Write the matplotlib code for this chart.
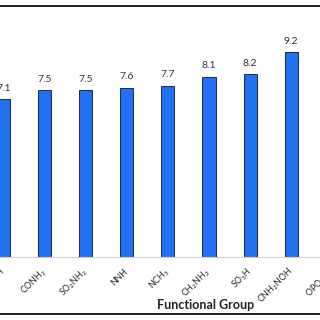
"""Bar chart of values per functional group (cropped view)."""

import matplotlib

matplotlib.use("Agg")
import matplotlib.pyplot as plt
from matplotlib.patches import Rectangle

# categories visible in the crop; the last one has its bar off-canvas
groups = [
    "COOH",
    "CONH$_2$",
    "SO$_2$NH$_2$",
    "NNH",
    "NCH$_3$",
    "CH$_2$NH$_2$",
    "SO$_3$H",
    "CNH$_2$NOH",
    "OPO$_3$H$_2$",
]
values = [7.1, 7.5, 7.5, 7.6, 7.7, 8.1, 8.2, 9.2]

BLUE = "#2170F2"
EDGE = "#1B2A4A"

plt.rcParams["font.family"] = ["Lato", "DejaVu Sans"]

fig = plt.figure(figsize=(3.2, 3.2), dpi=100)
W = H = 320.0

# axes deliberately wider than the canvas, like a crop of a larger chart
ax_left, ax_right = -64.0, 384.0
ax_bottom, ax_top = 257.0, 257.0 - 222.7
ax = fig.add_axes([
    ax_left / W,
    1 - ax_bottom / H,
    (ax_right - ax_left) / W,
    (ax_bottom - ax_top) / H,
])

x = list(range(len(values)))
bars = ax.bar(x, values, width=0.32, color=BLUE, edgecolor=EDGE, linewidth=0.7)
ax.bar_label(bars, labels=[f"{v:.1f}" for v in values], padding=4.5,
             fontsize=7.5, color="#333333")

step = 41.1
first = 3.5
ax.set_xlim((ax_left - first) / step, (ax_right - first) / step)
ax.set_ylim(0, 10)

ax.set_xticks(range(len(groups)))
ax.set_xticklabels(groups, rotation=45, ha="right", va="center",
                   rotation_mode="anchor", fontsize=6.3, color="#222222")
ax.tick_params(axis="x", length=0, pad=9.5)
ax.set_yticks([])

for side in ("top", "left", "right"):
    ax.spines[side].set_visible(False)
ax.spines["bottom"].set_color("#d0d0d0")
ax.spines["bottom"].set_linewidth(0.8)

fig.text(205.5 / W, 1 - 305 / H, "Functional Group", ha="center", va="center",
         fontsize=9, fontweight="bold", color="#222222")

# chart-area border (left and right edges lie outside the crop)
fig.patches.append(Rectangle((-0.05, 1 - 313.5 / H), 1.1, (313.5 - 5.5) / H,
                             transform=fig.transFigure, fill=False,
                             edgecolor="#222222", linewidth=1.4))

fig.savefig("out.png", dpi=100)
